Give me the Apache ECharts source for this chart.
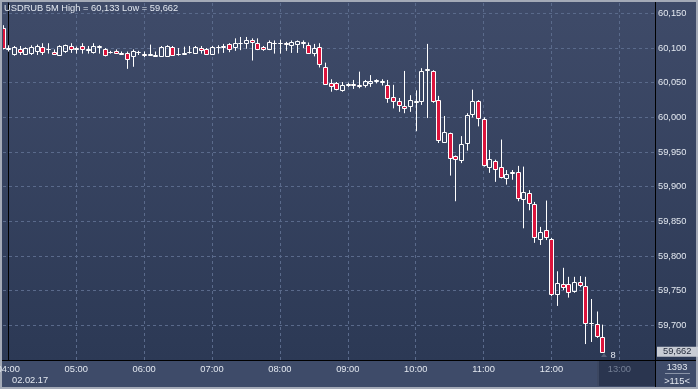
<!DOCTYPE html>
<html><head><meta charset="utf-8">
<script src="https://cdn.jsdelivr.net/npm/echarts@6/dist/echarts.min.js"></script>
<style>
html,body{margin:0;padding:0;background:#3e4b69;}
#c{width:698px;height:389px;background:linear-gradient(to bottom,#3f4b69 0px,#2c3955 360px,#3e4b69 360px,#3e4b69 389px);}
</style></head><body><div id="c"></div>
<script>
const chartTitle = 'USDRUB 5M High = 60,133 Low = 59,662';
const firstSlot = -1; // 03:55, one 5-minute slot before 04:00
const opens = [60.129,
 60.099,60.092,60.098,60.092,60.093,60.096,60.101,60.098,60.095,60.090,60.096,60.103,
 60.099,60.103,60.097,60.094,60.101,60.098,60.094,60.096,60.093,60.093,60.088,60.094,
 60.092,60.090,60.089,60.089,60.089,60.102,60.092,60.092,60.094,60.093,60.100,60.098,
 60.092,60.101,60.102,60.106,60.102,60.107,60.107,60.111,60.108,60.101,60.098,60.107,
 60.107,60.107,60.105,60.106,60.109,60.105,60.093,60.101,60.072,60.049,60.049,60.039,
 60.047,60.048,60.047,60.047,60.049,60.053,60.051,60.047,60.030,60.023,60.017,60.016,
 60.022,60.023,60.069,60.067,60.025,59.965,59.977,59.944,59.939,59.963,60.005,60.024,
 59.998,59.929,59.937,59.928,59.912,59.920,59.921,59.882,59.891,59.875,59.824,59.838,
 59.824,59.745,59.760,59.759,59.749,59.762,59.757,59.703,59.702,59.683];
const closes = [60.100,
 60.100,60.101,60.095,60.100,60.102,60.103,60.095,60.099,60.092,60.103,60.104,60.098,
 60.100,60.098,60.098,60.103,60.103,60.090,60.095,60.093,60.091,60.084,60.096,60.095,
 60.090,60.091,60.090,60.102,60.103,60.090,60.091,60.093,60.095,60.101,60.097,60.092,
 60.102,60.102,60.103,60.098,60.108,60.108,60.112,60.109,60.098,60.099,60.109,60.108,
 60.108,60.106,60.109,60.110,60.107,60.093,60.100,60.077,60.048,60.045,60.041,60.047,
 60.048,60.047,60.045,60.052,60.052,60.054,60.052,60.028,60.023,60.018,60.013,60.025,
 60.023,60.067,60.070,60.024,59.968,59.979,59.941,59.940,59.961,60.004,60.023,59.999,
 59.931,59.940,59.926,59.914,59.918,59.921,59.884,59.892,59.877,59.827,59.835,59.827,
 59.745,59.761,59.756,59.748,59.762,59.758,59.704,59.704,59.684,59.662];
const lows = [60.098,
 60.095,60.089,60.090,60.090,60.090,60.090,60.090,60.092,60.090,60.089,60.093,60.093,
 60.092,60.092,60.092,60.092,60.092,60.088,60.092,60.092,60.090,60.070,60.073,60.090,
 60.087,60.089,60.088,60.088,60.088,60.089,60.089,60.091,60.092,60.092,60.092,60.090,
 60.091,60.092,60.093,60.094,60.096,60.097,60.099,60.082,60.097,60.096,60.097,60.092,
 60.092,60.096,60.093,60.093,60.100,60.092,60.088,60.072,60.047,60.037,60.039,60.037,
 60.044,60.041,60.042,60.043,60.044,60.049,60.046,60.021,60.013,60.008,60.006,60.008,
 59.980,60.018,59.999,60.021,59.963,59.963,59.916,59.879,59.934,59.952,60.000,59.987,
 59.929,59.920,59.907,59.912,59.903,59.910,59.879,59.840,59.866,59.819,59.816,59.823,
 59.742,59.728,59.751,59.740,59.747,59.755,59.673,59.676,59.682,59.662];
const highs = [60.133,
 60.104,60.103,60.103,60.101,60.104,60.105,60.107,60.107,60.098,60.104,60.105,60.107,
 60.102,60.107,60.103,60.107,60.104,60.100,60.096,60.098,60.095,60.095,60.098,60.096,
 60.095,60.105,60.095,60.103,60.104,60.103,60.100,60.102,60.103,60.103,60.103,60.100,
 60.103,60.104,60.106,60.107,60.114,60.116,60.116,60.114,60.114,60.103,60.111,60.111,
 60.112,60.109,60.111,60.111,60.111,60.108,60.106,60.107,60.079,60.055,60.051,60.051,
 60.050,60.054,60.066,60.054,60.061,60.055,60.055,60.054,60.047,60.028,60.067,60.032,
 60.039,60.071,60.106,60.068,60.031,60.002,59.978,59.945,59.973,60.006,60.040,60.025,
 60.000,59.953,59.939,59.968,59.924,59.924,59.930,59.929,59.895,59.878,59.842,59.880,
 59.826,59.778,59.783,59.770,59.770,59.771,59.770,59.738,59.720,59.701];
const hourLabels = ['04:00','05:00','06:00','07:00','08:00','09:00','10:00','11:00','12:00','13:00'];
const hourSlots = [0,12,24,36,48,60,72,84,96,108];
const priceTicks = [59.70,59.75,59.80,59.85,59.90,59.95,60.00,60.05,60.10,60.15];
const lastPrice = 59.662;
const sessionDate = '02.02.17';
const barCount = '1393';
const spreadText = '>115<';
const timerText = '8';

const FONT = '"Liberation Sans", Arial, sans-serif';
const fmt = v => Number(v).toFixed(3).replace('.', ',');
const candles = opens.map((o, k) => [firstSlot + k, o, closes[k], lows[k], highs[k]]);

function renderCandle(params, api) {
  const x = api.value(0), o = api.value(1), c = api.value(2), l = api.value(3), h = api.value(4);
  const pO = api.coord([x, o]), pC = api.coord([x, c]);
  const pL = api.coord([x, l]), pH = api.coord([x, h]);
  const cx = Math.round(pO[0]) + 0.5;
  const top = Math.round(Math.min(pO[1], pC[1])) + 0.5;
  const bot = Math.max(Math.round(Math.max(pO[1], pC[1])) + 0.5, top);
  const w = 4;
  const up = c >= o;
  return {
    type: 'group',
    children: [
      {type: 'line', shape: {x1: cx, y1: pH[1], x2: cx, y2: top}, style: {stroke: '#ffffff', lineWidth: 1}},
      {type: 'line', shape: {x1: cx, y1: bot, x2: cx, y2: pL[1]}, style: {stroke: '#ffffff', lineWidth: 1}},
      {type: 'rect', shape: {x: cx - w / 2, y: top, width: w, height: bot - top},
       style: {fill: up ? 'rgba(0,0,0,0)' : '#dc143c', stroke: '#ffffff', lineWidth: 1}}
    ]
  };
}

const chart = echarts.init(document.getElementById('c'), null, {renderer: 'canvas'});
chart.setOption({
  animation: false,
  backgroundColor: 'transparent',
  title: {
    text: chartTitle, left: 4, top: 4, padding: 0,
    textStyle: {color: '#e3e8f0', fontSize: 9.3, fontWeight: 'normal', fontFamily: FONT}
  },
  grid: {left: 3, right: 43, top: 3, bottom: 29, containLabel: false, outerBoundsMode: 'none'},
  xAxis: {
    type: 'value', min: -0.94, max: 114.3,
    axisLine: {show: true, lineStyle: {color: '#000', width: 1}},
    axisTick: {show: false, customValues: hourSlots},
    axisLabel: {
      customValues: hourSlots,
      formatter: v => hourLabels[hourSlots.indexOf(Number(v))] || '',
      color: v => Number(v) === 108 ? '#747f95' : '#e3e8f0',
      fontSize: 9.3, fontFamily: FONT, margin: 5
    },
    splitLine: {show: true, lineStyle: {color: '#5a6a8b', type: [3, 3], width: 1}}
  },
  yAxis: [{
    type: 'value', position: 'right', min: 59.65, max: 60.165, scale: true,
    axisLine: {show: true, lineStyle: {color: '#000', width: 1}},
    axisTick: {show: false, customValues: priceTicks},
    axisLabel: {customValues: priceTicks, formatter: fmt, color: '#e3e8f0', fontSize: 9.3, fontFamily: FONT, margin: 3},
    splitLine: {show: true, lineStyle: {color: '#5a6a8b', type: [3, 3], width: 1}}
  }, {
    type: 'value', position: 'right', min: 59.65, max: 60.165, scale: true,
    axisLine: {show: false}, axisTick: {show: false}, splitLine: {show: false},
    axisLabel: {
      customValues: [lastPrice], formatter: fmt, color: '#1f2738',
      backgroundColor: '#c8ccd4', padding: [1, 7, 0, 6], fontSize: 9.3, fontFamily: FONT, margin: 2
    }
  }],
  series: [{
    type: 'custom',
    data: candles,
    encode: {x: 0, y: [1, 2, 3, 4]},
    clip: true,
    renderItem: renderCandle
  }],
  graphic: [
    {type: 'rect', z: -10, shape: {x: 597, y: 361, width: 58, height: 25}, style: {fill: '#2a354f'}},
    {type: 'line', shape: {x1: 598, y1: 361, x2: 598, y2: 386}, style: {stroke: '#4f5b75', lineWidth: 1}},
    {type: 'line', shape: {x1: 0, y1: 360.5, x2: 698, y2: 360.5}, style: {stroke: '#000', lineWidth: 1}},
    {type: 'line', shape: {x1: 655.5, y1: 0, x2: 655.5, y2: 389}, style: {stroke: '#000', lineWidth: 1}},
    {type: 'text', x: 12, y: 380, style: {text: sessionDate, fill: '#e3e8f0', font: '9.3px ' + FONT, textVerticalAlign: 'middle'}},
    {type: 'text', x: 677, y: 367, style: {text: barCount, fill: '#e3e8f0', font: '9.3px ' + FONT, textAlign: 'center', textVerticalAlign: 'middle'}},
    {type: 'line', shape: {x1: 665, y1: 373.5, x2: 690, y2: 373.5}, style: {stroke: '#8a94a8', lineWidth: 1}},
    {type: 'text', x: 677, y: 381, style: {text: spreadText, fill: '#e3e8f0', font: '9.3px ' + FONT, textAlign: 'center', textVerticalAlign: 'middle'}},
    {type: 'text', x: 613, y: 355.5, style: {text: timerText, fill: '#e3e8f0', font: '9.3px ' + FONT, textAlign: 'center', textVerticalAlign: 'middle'}},
    {type: 'polygon', shape: {points: [[601, 357], [607, 357], [604, 353]]}, style: {fill: '#56617a'}},
    {type: 'rect', shape: {x: 1, y: 1, width: 696, height: 387}, style: {fill: 'none', stroke: '#a4aab7', lineWidth: 2}}
  ]
});
</script></body></html>
